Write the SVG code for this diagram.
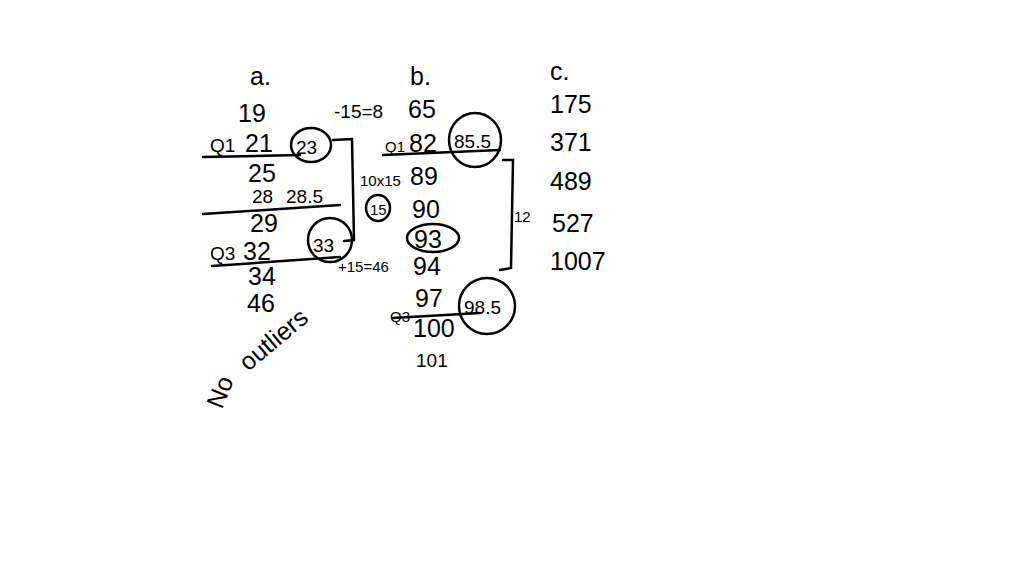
<svg xmlns="http://www.w3.org/2000/svg" width="1024" height="576" viewBox="0 0 1024 576">
<style>
text{font-family:"Liberation Sans",sans-serif;fill:#000;font-size:25px}
.s{font-size:15px}
.m{font-size:19px}
.l{fill:none;stroke:#000;stroke-width:2.5;stroke-linecap:round}
</style>
<rect width="1024" height="576" fill="#fff"/>
<g id="colA">
<text x="250" y="85" font-size="30">a.</text>
<text x="238" y="122">19</text>
<text x="210" y="152" class="m">Q1</text>
<text x="245" y="152">21</text>
<ellipse cx="311" cy="145" rx="20" ry="17" class="l"/>
<text x="296" y="154" class="m">23</text>
<text x="334" y="118" class="m">-15=8</text>
<path d="M203 157 L300 155" class="l"/>
<text x="248" y="182">25</text>
<text x="252" y="203" class="m">28</text>
<text x="286" y="203" class="m">28.5</text>
<path d="M203 214 L340 205" class="l"/>
<text x="250" y="232">29</text>
<text x="210" y="260" class="m">Q3</text>
<text x="243" y="260">32</text>
<ellipse cx="330" cy="240" rx="22" ry="22" class="l"/>
<text x="313" y="252" class="m">33</text>
<path d="M212 266 L340 257" class="l"/>
<text x="338" y="272" class="s">+15=46</text>
<path d="M333 140 L352 139 L354 240 L344 241" class="l"/>
<text x="248" y="285">34</text>
<text x="247" y="312">46</text>
<text x="0" y="0" font-size="30" transform="translate(222 410) rotate(-68)">No</text>
<text x="0" y="0" font-size="22" transform="translate(248 372) rotate(-40)">outliers</text>
</g>
<g id="mid">
<text x="360" y="186" class="s">10x15</text>
<ellipse cx="378" cy="208" rx="12" ry="13" class="l"/>
<text x="370" y="215" class="s">15</text>
</g>
<g id="colB">
<text x="410" y="85" font-size="30">b.</text>
<text x="408" y="118">65</text>
<text x="385" y="152" class="s">Q1</text>
<text x="409" y="152">82</text>
<ellipse cx="475" cy="140" rx="26" ry="27" class="l"/>
<text x="454" y="148" class="m">85.5</text>
<path d="M383 155 L500 150" class="l"/>
<text x="410" y="185">89</text>
<text x="412" y="218">90</text>
<ellipse cx="433" cy="238" rx="26" ry="14" class="l"/>
<text x="414" y="248">93</text>
<text x="413" y="275">94</text>
<path d="M503 160 L513 160 L511 268 L500 270" class="l"/>
<text x="514" y="222" class="s">12</text>
<text x="390" y="322" class="s">Q3</text>
<text x="415" y="307">97</text>
<ellipse cx="487" cy="306" rx="28" ry="28" class="l"/>
<text x="464" y="314" class="m">98.5</text>
<path d="M393 318 L480 313" class="l"/>
<text x="413" y="337">100</text>
<text x="416" y="367" class="m">101</text>
</g>
<g id="colC">
<text x="550" y="80" font-size="30">c.</text>
<text x="550" y="113">175</text>
<text x="550" y="151">371</text>
<text x="550" y="190">489</text>
<text x="552" y="232">527</text>
<text x="550" y="270">1007</text>
</g>
</svg>
